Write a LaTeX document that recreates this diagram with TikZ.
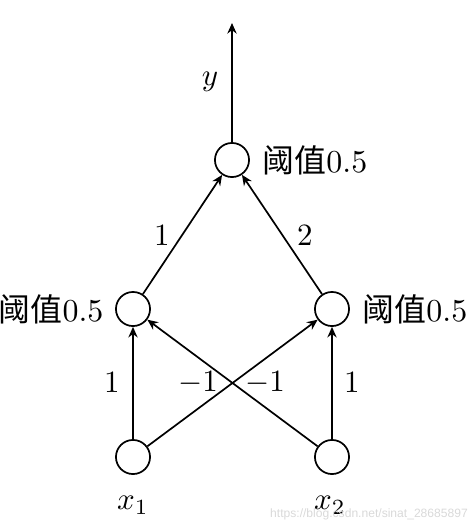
\documentclass[tikz,border=0pt]{standalone}
\usetikzlibrary{arrows.meta}
\usepackage{fontspec}
\newfontfamily\cjk{Noto Sans CJK SC}
\newfontfamily\wmfont{Liberation Sans}
\begin{document}
\begin{tikzpicture}[x=0.3226pt,y=-0.3226pt,
  neuron/.style={draw,circle,line width=0.55pt,minimum size=11pt,inner sep=0pt},
  conn/.style={-{Stealth[length=3.4pt,width=3pt,inset=1.1pt]},line width=0.55pt},
  lbl/.style={inner sep=0pt,font=\fontsize{10.3}{12}\selectfont}]
\useasboundingbox (0,0) rectangle (474,528);
\node[neuron] (top) at (232,160) {};
\node[neuron] (L) at (133,309) {};
\node[neuron] (R) at (332,309) {};
\node[neuron] (B1) at (133,457) {};
\node[neuron] (B2) at (332,457) {};
\coordinate (out) at (232,23);
\draw[conn] (top) -- (out);
\draw[conn] (L) -- (top);
\draw[conn] (R) -- (top);
\draw[conn] (B1) -- (L);
\draw[conn] (B1) -- (R);
\draw[conn] (B2) -- (L);
\draw[conn] (B2) -- (R);
\node[lbl] (ylab) at (210,82) {$y$};
\node[lbl,anchor=west] (tl) at (262,160) {{\cjk 阈值}0.5};
\node[lbl,anchor=east] (ll) at (104,309) {{\cjk 阈值}0.5};
\node[lbl,anchor=west] (rl) at (362,309) {{\cjk 阈值}0.5};
\node[lbl] (x1) at (133,505) {$x_1$};
\node[lbl] (x2) at (330,505) {$x_2$};
\node[lbl] (w1) at (162,236) {$1$};
\node[lbl] (w2) at (305,236) {$2$};
\node[lbl] (w3) at (112,383) {$1$};
\node[lbl] (w4) at (198,383) {$-1$};
\node[lbl] (w5) at (265,383) {$-1$};
\node[lbl] (w6) at (352,383) {$1$};
\node[inner sep=0pt,text=black!15,font=\wmfont\fontsize{3.9}{5}\selectfont] (wm) at (369,514) {https://blog.csdn.net/sinat\_28685897};
\end{tikzpicture}
\end{document}
